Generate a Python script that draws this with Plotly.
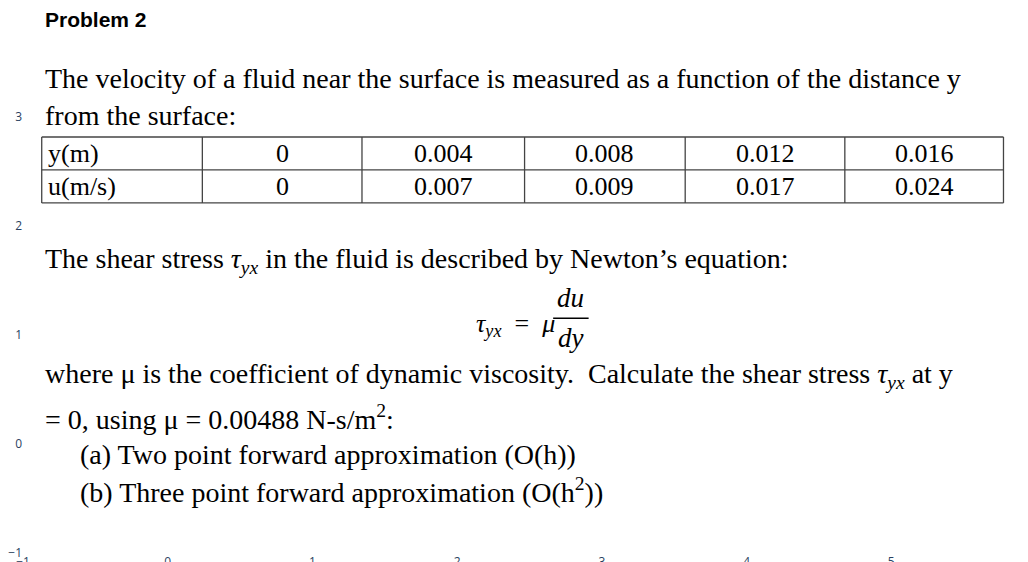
import plotly.graph_objects as go

W, H = 1028, 562
OFF = 8  # page body margin

# table data
row_labels = ["y(m)", "u(m/s)"]
y_vals = ["0", "0.004", "0.008", "0.012", "0.016"]
u_vals = ["0", "0.007", "0.009", "0.017", "0.024"]

SERIF = "Liberation Serif, Times New Roman, serif"


def px(x):
    return (x - OFF) / W


def py(y):
    return 1 - (y - OFF) / H


fig = go.Figure()

# table drawn as lines + text
col_x = [27, 190, 352, 517, 680, 842, 1003]
row_y = [141, 175, 209]
for x in col_x:
    fig.add_shape(type="line", xref="paper", yref="paper", x0=px(x), x1=px(x),
                  y0=py(row_y[0]), y1=py(row_y[-1]), line=dict(color="#444", width=1.3))
for y in row_y:
    fig.add_shape(type="line", xref="paper", yref="paper", x0=px(col_x[0]), x1=px(col_x[-1]),
                  y0=py(y), y1=py(y), line=dict(color="#444", width=1.3))

for r, (lab, vals) in enumerate([(row_labels[0], y_vals), (row_labels[1], u_vals)]):
    yc = (row_y[r] + row_y[r + 1]) / 2
    fig.add_annotation(x=px(col_x[0] + 4), y=py(yc), xref="paper", yref="paper", text=lab,
                       showarrow=False, xanchor="left", yanchor="middle",
                       font=dict(family=SERIF, size=26, color="black"))
    for i, v in enumerate(vals):
        xc = (col_x[i + 1] + col_x[i + 2]) / 2
        fig.add_annotation(x=px(xc), y=py(yc), xref="paper", yref="paper", text=v,
                           showarrow=False, xanchor="center", yanchor="middle",
                           font=dict(family=SERIF, size=26, color="black"))

anns = [
    (28, 20, "<b>Problem 2</b>", "Arial, Liberation Sans, sans-serif", 21),
    (28, 81, "The velocity of a fluid near the surface is measured as a function of the distance y", SERIF, 28),
    (28, 119, "from the surface:", SERIF, 28),
    (28, 268, "The shear stress <i>τ<sub>yx</sub></i> in the fluid is described by Newton’s equation:", SERIF, 28),
    (466, 335, "<i>τ<sub>yx</sub></i>  =  <i>μ</i>", SERIF, 26),
    (28, 387, "where μ is the coefficient of dynamic viscosity.  Calculate the shear stress <i>τ<sub>yx</sub></i> at y", SERIF, 28),
    (28, 430, "= 0, using μ = 0.00488 N-s/m<sup>2</sup>:", SERIF, 28),
    (64, 468, "(a) Two point forward approximation (O(h))", SERIF, 28),
    (64, 506, "(b) Three point forward approximation (O(h<sup>2</sup>))", SERIF, 28),
]
for x, y, t, f, s in anns:
    fig.add_annotation(x=px(x), y=py(y), xref="paper", yref="paper", text=t,
                       showarrow=False, xanchor="left", yanchor="middle",
                       font=dict(family=f, size=s, color="black"))

# fraction du/dy
fig.add_annotation(x=px(564), y=py(307), xref="paper", yref="paper", text="<i>du</i>",
                   showarrow=False, font=dict(family=SERIF, size=27, color="black"))
fig.add_annotation(x=px(564), y=py(348), xref="paper", yref="paper", text="<i>dy</i>",
                   showarrow=False, font=dict(family=SERIF, size=27, color="black"))
fig.add_shape(type="line", xref="paper", yref="paper", x0=px(546), x1=px(582),
              y0=py(328), y1=py(328), line=dict(color="black", width=1.5))

fig.update_layout(width=W, height=H, margin=dict(l=0, r=0, t=0, b=0),
                  paper_bgcolor="white", plot_bgcolor="white")
fig.write_html("out.html")
